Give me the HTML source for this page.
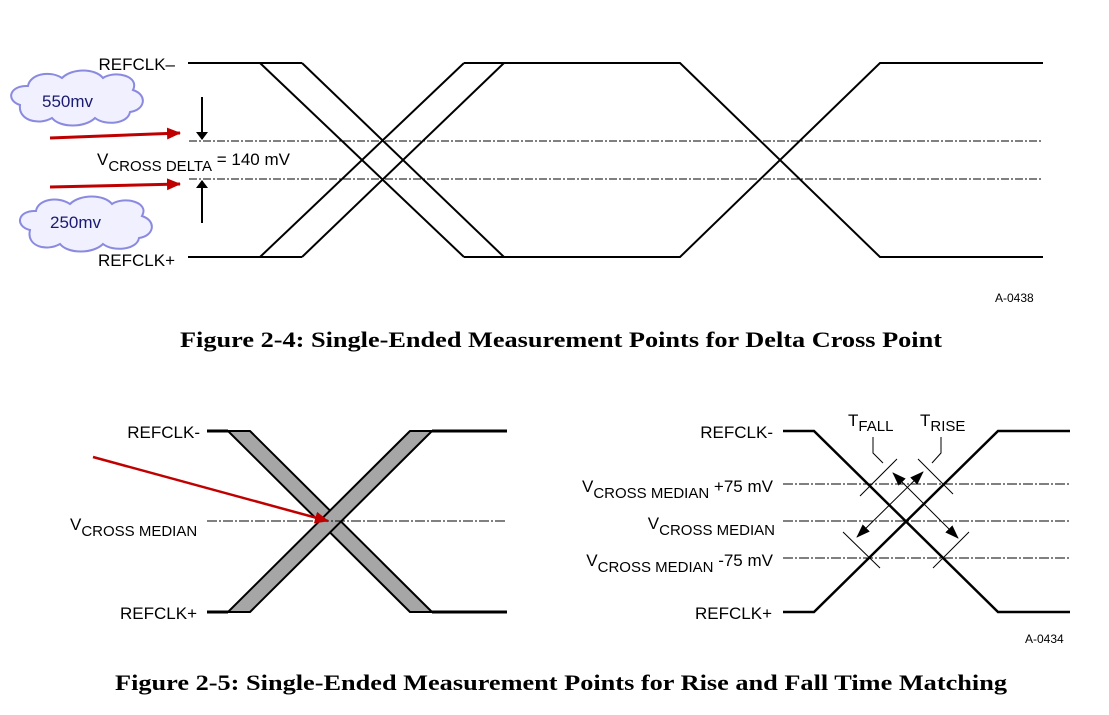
<!DOCTYPE html>
<html><head><meta charset="utf-8"><style>
html,body{margin:0;padding:0;background:#fff;}
svg{display:block;}
text{font-family:"Liberation Sans",sans-serif;fill:#000;}
.cap{font-family:"Liberation Serif",serif;font-weight:bold;font-size:22px;}
</style></head><body>
<svg width="1109" height="715" viewBox="0 0 1109 715" xmlns="http://www.w3.org/2000/svg">
<defs>
<marker id="ab" markerWidth="8" markerHeight="12" refX="7" refY="6" orient="auto" markerUnits="userSpaceOnUse"><path d="M0,0 L8,6 L0,12 z" fill="#000"/></marker>
<marker id="ar" markerWidth="14" markerHeight="12" refX="13" refY="6" orient="auto" markerUnits="userSpaceOnUse"><path d="M0,0 L14,6 L0,12 z" fill="#c00000"/></marker>
<marker id="as" markerWidth="14" markerHeight="10" refX="13" refY="5" orient="auto" markerUnits="userSpaceOnUse"><path d="M0,0 L14,5 L0,10 z" fill="#000"/></marker>
<marker id="as2" markerWidth="14" markerHeight="10" refX="1" refY="5" orient="auto" markerUnits="userSpaceOnUse"><path d="M14,0 L0,5 L14,10 z" fill="#000"/></marker>
</defs>

<!-- Figure 2-4 -->
<g stroke="#000" stroke-width="2" fill="none">
<line x1="188" y1="63" x2="302" y2="63"/>
<line x1="188" y1="257" x2="302" y2="257"/>
<line x1="260" y1="63" x2="464" y2="257"/>
<line x1="302" y1="63" x2="504" y2="257"/>
<line x1="260" y1="257" x2="464" y2="63"/>
<line x1="302" y1="257" x2="504" y2="63"/>
<polyline points="464,63 680,63 880,257 1043,257"/>
<polyline points="464,257 680,257 880,63 1043,63"/>
</g>
<g stroke="#000" stroke-width="1" stroke-dasharray="8,2,2,2">
<line x1="189" y1="141" x2="1043" y2="141"/>
<line x1="189" y1="179" x2="1043" y2="179"/>
</g>
<line x1="202" y1="97" x2="202" y2="139" stroke="#000" stroke-width="2" marker-end="url(#ab)"/>
<line x1="202" y1="223" x2="202" y2="181" stroke="#000" stroke-width="2" marker-end="url(#ab)"/>
<text x="175" y="70" font-size="17" text-anchor="end">REFCLK–</text>
<text x="175" y="266" font-size="17" text-anchor="end">REFCLK+</text>
<text x="97" y="165" font-size="17">V<tspan font-size="15" dy="6">CROSS DELTA</tspan><tspan dy="-6"> = 140 mV</tspan></text>
<text x="995" y="302" font-size="12">A-0438</text>

<line x1="50" y1="138" x2="180" y2="133" stroke="#c00000" stroke-width="3" marker-end="url(#ar)"/>
<line x1="50" y1="187" x2="180" y2="184" stroke="#c00000" stroke-width="3" marker-end="url(#ar)"/>

<g fill="#f0f0ff" stroke="#8a8ae0" stroke-width="2">
<path d="M20,105 C5,100 10,85 28,86 C30,74 50,70 62,78 C72,68 95,68 103,78 C115,70 140,76 133,90 C148,95 145,110 130,112 C128,124 105,126 95,118 C85,128 60,128 52,118 C38,126 18,120 20,105 z"/>
<path d="M30,230 C14,226 18,210 36,211 C38,199 58,196 70,204 C80,194 104,194 112,204 C124,196 150,202 142,216 C157,221 154,236 139,238 C137,250 113,252 103,244 C93,254 68,254 60,244 C46,252 26,246 30,230 z"/>
</g>
<text x="42" y="107" font-size="17" style="fill:#1a1a70">550mv</text>
<text x="50" y="228" font-size="17" style="fill:#1a1a70">250mv</text>

<text class="cap" x="180" y="347" textLength="762" lengthAdjust="spacingAndGlyphs">Figure 2-4:  Single-Ended Measurement Points for Delta Cross Point</text>

<!-- Figure 2-5 left -->
<line x1="207" y1="431" x2="228" y2="431" stroke="#000" stroke-width="3"/>
<line x1="207" y1="612" x2="228" y2="612" stroke="#000" stroke-width="3"/>
<line x1="432" y1="431" x2="507" y2="431" stroke="#000" stroke-width="3"/>
<line x1="432" y1="612" x2="507" y2="612" stroke="#000" stroke-width="3"/>
<g fill="#a6a6a6" stroke="#000" stroke-width="2" stroke-linejoin="round">
<polygon points="228,431 250,431 432,612 410,612"/>
<polygon points="228,612 250,612 432,431 410,431"/>
</g>
<line x1="207" y1="521" x2="507" y2="521" stroke="#000" stroke-width="1" stroke-dasharray="10,2,2,2"/>
<line x1="93" y1="457" x2="328" y2="521" stroke="#c00000" stroke-width="2.5" marker-end="url(#ar)"/>
<text x="200" y="438" font-size="17" text-anchor="end">REFCLK-</text>
<text x="197" y="619" font-size="17" text-anchor="end">REFCLK+</text>
<text x="70" y="530" font-size="17">V<tspan font-size="15" dy="6">CROSS MEDIAN</tspan></text>

<!-- Figure 2-5 right -->
<g stroke="#000" stroke-width="1" stroke-dasharray="10,2,2,2">
<line x1="783" y1="484" x2="1070" y2="484"/>
<line x1="783" y1="521" x2="1070" y2="521"/>
<line x1="783" y1="558" x2="1070" y2="558"/>
</g>
<g stroke="#000" stroke-width="2.5" fill="none">
<polyline points="783,431 814,431 998,612 1070,612"/>
<polyline points="783,612 814,612 998,431 1070,431"/>
</g>
<g stroke="#000" stroke-width="1" fill="none">
<line x1="860" y1="496" x2="897" y2="459"/>
<line x1="918" y1="459" x2="953" y2="494"/>
<line x1="843" y1="532" x2="880" y2="568"/>
<line x1="933" y1="568" x2="969" y2="532"/>
<polyline points="873,437 873,453 883,463"/>
<polyline points="941,437 941,453 932,463"/>
<line x1="893" y1="473" x2="958" y2="538" marker-start="url(#as2)" marker-end="url(#as)"/>
<line x1="923" y1="472" x2="857" y2="537" marker-start="url(#as2)" marker-end="url(#as)"/>
</g>
<text x="848" y="426" font-size="17">T<tspan font-size="15" dy="5">FALL</tspan></text>
<text x="920" y="426" font-size="17">T<tspan font-size="15" dy="5">RISE</tspan></text>
<text x="773" y="438" font-size="17" text-anchor="end">REFCLK-</text>
<text x="772" y="619" font-size="17" text-anchor="end">REFCLK+</text>
<text x="773" y="492" font-size="17" text-anchor="end">V<tspan font-size="15" dy="6">CROSS MEDIAN</tspan><tspan dy="-6"> +75 mV</tspan></text>
<text x="775" y="529" font-size="17" text-anchor="end">V<tspan font-size="15" dy="6">CROSS MEDIAN</tspan></text>
<text x="773" y="566" font-size="17" text-anchor="end">V<tspan font-size="15" dy="6">CROSS MEDIAN</tspan><tspan dy="-6"> -75 mV</tspan></text>
<text x="1025" y="643" font-size="12">A-0434</text>

<text class="cap" x="115" y="690" textLength="892" lengthAdjust="spacingAndGlyphs">Figure 2-5:  Single-Ended Measurement Points for Rise and Fall Time Matching</text>
</svg>
</body></html>
